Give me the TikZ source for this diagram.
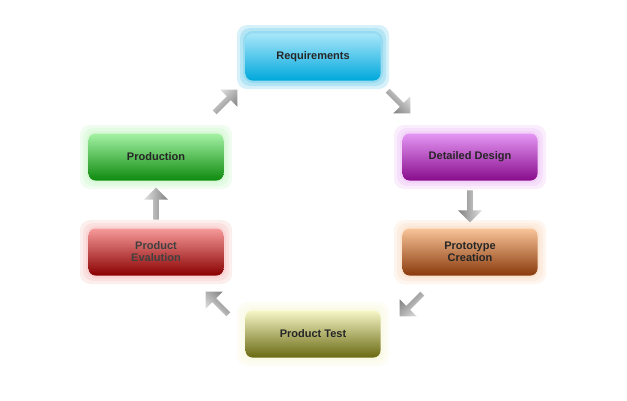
\documentclass[tikz,border=0pt]{standalone}
\usepackage{fontspec}
\setmainfont{Liberation Sans}
\usetikzlibrary{shapes.arrows,calc}
\begin{document}
\begin{tikzpicture}[x=1pt,y=-1pt,
  stage/.style={rounded corners=7pt,minimum width=135pt,minimum height=47pt,inner sep=0pt,
    font=\bfseries\fontsize{11}{12}\selectfont,align=center,text=black!85},
  flow/.style={single arrow,single arrow head extend=4pt,minimum height=32pt,minimum width=24pt,
    inner sep=1pt,draw=none,top color=black!12,bottom color=black!50,shading angle=#1,rotate=#1},
  glow/.style={opacity=0.16,rounded corners=10pt}]
\useasboundingbox[fill=white] (0,0) rectangle (627,400);
\definecolor{cA}{HTML}{A8E6FA}\definecolor{cB}{HTML}{00A8DC}
\definecolor{dA}{HTML}{E496F4}\definecolor{dB}{HTML}{880C8C}
\definecolor{pA}{HTML}{F8C498}\definecolor{pB}{HTML}{8A3A0C}
\definecolor{tA}{HTML}{F6F6C8}\definecolor{tB}{HTML}{6A6A12}
\definecolor{eA}{HTML}{F69A9A}\definecolor{eB}{HTML}{8A0000}
\definecolor{gA}{HTML}{A4F2A4}\definecolor{gB}{HTML}{0E8A0E}
\foreach \x/\y/\c in {313/57/cB,470/157/dA,470/252/pA,313/334/tA,156/252/eA,156/157/gA}{
  \foreach \w in {9,6,3}{
    \fill[\c,glow] (\x-67-\w,\y-23-\w) rectangle (\x+67+\w,\y+23+\w);}}
\node[stage,top color=cA,bottom color=cB] (req) at (313,57) {Requirements};
\node[stage,top color=dA,bottom color=dB] (dd) at (470,157) {Detailed Design};
\node[stage,top color=pA,bottom color=pB] (pc) at (470,252) {Prototype\\Creation};
\node[stage,top color=tA,bottom color=tB] (pt) at (313,334) {Product Test};
\node[stage,top color=eA,bottom color=eB,text=black!75] (pe) at (156,252) {Product\\Evalution};
\node[stage,top color=gA,bottom color=gB] (pr) at (156,157) {Production};
\node[flow=-45] (a1) at (398,101) {};
\node[flow=-90] (a2) at (470,205) {};
\node[flow=-135] (a3) at (412,304) {};
\node[flow=135] (a4) at (218,304) {};
\node[flow=90] (a5) at (156,205) {};
\node[flow=45] (a6) at (225,102) {};
\end{tikzpicture}
\end{document}
